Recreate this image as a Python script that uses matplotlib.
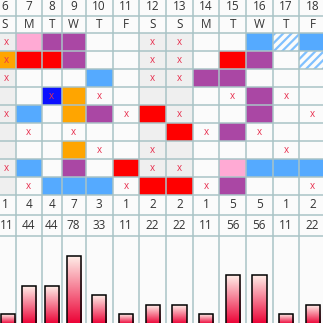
import numpy as np
import matplotlib.pyplot as plt
from matplotlib.patches import Rectangle
from matplotlib.colors import LinearSegmentedColormap

# DATA
# =======================================
days = [6, 7, 8, 9, 10, 11, 12, 13, 14, 15, 16, 17, 18]
weekdays = ['S', 'M', 'T', 'W', 'T', 'F', 'S', 'S', 'M', 'T', 'W', 'T', 'F']
weekend = [1, 0, 0, 0, 0, 0, 1, 1, 0, 0, 0, 0, 0]

# cell codes: . empty, P pink, U purple, R red, O orange, B blue, D dark blue, H hatched
cells = [
    ". P U U . . . . . . B H B",
    "O R R U . . . . . R U . H",
    ". . . . B . . . U U . . .",
    ". . D O . . . . . . U . .",
    ". B . O U . R . . . U . .",
    ". . . . . . . R . U . . .",
    ". . . O . . . . . . . . .",
    ". B . U . R . . . P B B B",
    ". . B B B . R R . U . . .",
]
marks = [
    "x . . . . . x x . . . . .",
    "x . . . . . x x . . . . .",
    "x . . . . . x x . . . . .",
    ". . x . x . . . . x . x .",
    "x . . . . x . x . . . . x",
    ". x . x . . . . x . x . .",
    ". . . . x . x . . . . x .",
    "x . . . . . x x . . . . .",
    ". x . . . x . . x . . . x",
]
counts = [1, 4, 4, 7, 3, 1, 2, 2, 1, 5, 5, 1, 2]
percent = [11, 44, 44, 78, 33, 11, 22, 22, 11, 56, 56, 11, 22]

# LAYOUT (pixels)
# =======================================
col_edges = [0, 15.7, 41.7, 61.7, 85.7, 112.7, 139.3, 166, 192.7, 219.3, 246, 272.7, 299.3, 326]
centers = [(a + b) / 2 for a, b in zip(col_edges[:-1], col_edges[1:])]
label_x = centers[:]
label_x[0] = 5
pct_x = label_x[:]
pct_x[0] = 7
row_top, row_h = 33.3, 17.97
h_lines = [15.7, 33.3] + [row_top + row_h * (k + 1) for k in range(9)] + [215.2, 235.7]

colors = {'P': '#ffaad4', 'U': '#aa47a4', 'R': '#ff0000', 'O': '#ffa500',
          'B': '#55aaff', 'D': '#0a10ff'}
line_c = '#a9c3c6'
text_c = '#333333'
font = 'Open Sans'

plt.rcParams['hatch.linewidth'] = 1.6

fig = plt.figure(figsize=(3.23, 3.23), dpi=100)
ax = fig.add_axes([0, 0, 1, 1])
ax.set_xlim(0, 323)
ax.set_ylim(323, 0)
ax.axis('off')

ax.add_patch(Rectangle((0, 0), 323, 323, facecolor='#fbfbfb', edgecolor='none', zorder=0))

# grid cells
for j in range(len(days)):
    x0, x1 = col_edges[j], col_edges[j + 1]
    if weekend[j]:
        ax.add_patch(Rectangle((x0, row_top), x1 - x0, row_h * 9,
                               facecolor='#efefef', edgecolor='none', zorder=1))
    for i in range(len(cells)):
        code = cells[i].split()[j]
        y0 = row_top + i * row_h
        if code == 'H':
            ax.add_patch(Rectangle((x0, y0), x1 - x0, row_h, facecolor='#fbfbfb',
                                   edgecolor='#80c0ff', hatch='////', lw=0, zorder=2))
        elif code in colors:
            ax.add_patch(Rectangle((x0, y0), x1 - x0, row_h, facecolor=colors[code],
                                   edgecolor='none', zorder=2))
        if marks[i].split()[j] == 'x':
            ax.text(centers[j] if j else label_x[j] + 1, y0 + row_h / 2, 'x', ha='center', va='center',
                    fontsize=7, color='#e8304f', family=font, zorder=4)

ax.vlines(col_edges[1:-1], 0, 323, color=line_c, lw=1.1, zorder=3)
ax.hlines(h_lines, 0, 323, color=line_c, lw=1.1, zorder=3)

# labels
for j in range(len(days)):
    ax.text(label_x[j], 7.0, str(days[j]), ha='center', va='center', fontsize=8.5, color=text_c, family=font, zorder=4)
    ax.text(label_x[j], 24.6, weekdays[j], ha='center', va='center', fontsize=8.5, color=text_c, family=font, zorder=4)
    ax.text(label_x[j], 204.5, str(counts[j]), ha='center', va='center', fontsize=8.5, color=text_c, family=font, zorder=4)
    ax.text(pct_x[j], 225.8, str(percent[j]), ha='center', va='center', fontsize=8.5, color=text_c, family=font, zorder=4)

# bars
ax2 = fig.add_axes([0, -0.5 / 323, 1, 87.5 / 323])
ax2.patch.set_visible(False)
cmap = LinearSegmentedColormap.from_list('grad', ['#ffeee8', '#f57890', '#ec0034'])
grad = np.linspace(0, 1, 256).reshape(-1, 1)
bar_w = 14.3
for j in range(len(days)):
    c = centers[j]
    rect = ax2.bar(c, percent[j], width=bar_w, facecolor='none', edgecolor='black', lw=1.1, zorder=3)[0]
    im = ax2.imshow(grad, extent=[c - bar_w / 2, c + bar_w / 2, 0, percent[j]], aspect='auto',
                    cmap=cmap, zorder=2)
    im.set_clip_path(rect)
ax2.set_xlim(0, 323)
ax2.set_ylim(0, 101.6)
ax2.axis('off')

fig.savefig('out.png', dpi=100)
